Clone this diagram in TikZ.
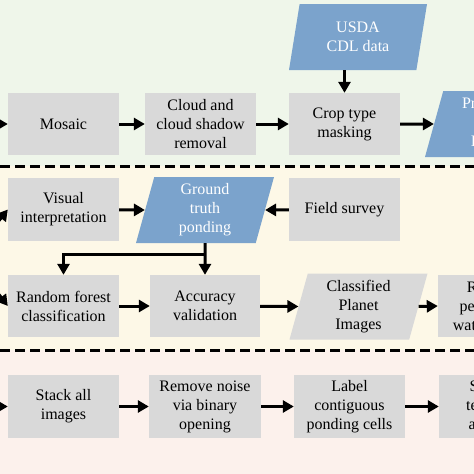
\documentclass[tikz,border=0pt]{standalone}
\usepackage{fontspec}
\setmainfont{Liberation Serif}
\usetikzlibrary{shapes.geometric,arrows.meta}
\definecolor{bggreen}{HTML}{EFF6EA}
\definecolor{bgcream}{HTML}{FDF8E7}
\definecolor{bgpink}{HTML}{FCF1EC}
\definecolor{boxgray}{HTML}{D9D9D9}
\definecolor{boxblue}{HTML}{7BA3CC}
\tikzset{
  procbox/.style={rectangle, fill=boxgray, minimum width=111pt, minimum height=62pt,
    inner sep=1pt, align=center, font=\fontsize{16}{19}\selectfont},
  databox/.style={trapezium, trapezium left angle=71.5, trapezium right angle=108.5,
    trapezium stretches body, minimum width=138pt, minimum height=66pt, inner sep=1pt,
    align=center, font=\fontsize{16}{19}\selectfont},
  bluedata/.style={databox, fill=boxblue, text=white},
  graydata/.style={databox, fill=boxgray},
  flow/.style={line width=3pt, -{Triangle[length=11pt,width=12pt]}},
  sepline/.style={line width=3pt, dash pattern=on 10pt off 5pt}
}
\begin{document}
\begin{tikzpicture}[x=1pt,y=-1pt]
\useasboundingbox (0,0) rectangle (474,474);
\clip (0,0) rectangle (474,474);
% backgrounds
\fill[bggreen] (0,0) rectangle (474,166);
\fill[bgcream] (0,166) rectangle (474,350);
\fill[bgpink] (0,350) rectangle (474,474);
\draw[sepline] (0,166) -- (474,166);
\draw[sepline] (0,350) -- (474,350);
% row 1
\node[procbox] (mosaic) at (63.5,124) {Mosaic};
\node[procbox] (cloud) at (200.5,124) {Cloud and\\cloud shadow\\removal};
\node[procbox] (crop) at (344.5,124) {Crop type\\masking};
\node[bluedata] (usda) at (358,37) {USDA\\CDL data};
\node[bluedata] (proc) at (494,124) {Processed\\Planet\\Images};
% row 2
\node[procbox, minimum height=63pt] (visual) at (63.5,209.5) {Visual\\interpretation};
\node[bluedata] (ground) at (205,210) {Ground\\truth\\ponding};
\node[procbox, minimum height=63pt] (field) at (344.5,209.5) {Field survey};
% row 3
\node[procbox] (rf) at (63.5,306) {Random forest\\classification};
\node[procbox, minimum width=110pt] (acc) at (205,306) {Accuracy\\validation};
\node[graydata] (class) at (358.5,306.5) {Classified\\Planet\\Images};
\node[procbox] (remperm) at (493.5,306) {Remove\\permanent\\water bodies};
% row 4
\node[procbox, minimum height=63pt] (stack) at (63.5,406.5) {Stack all\\images};
\node[procbox, minimum width=112pt, minimum height=63pt] (noise) at (205,406.5) {Remove noise\\via binary\\opening};
\node[procbox, minimum height=63pt] (label) at (349.5,406.5) {Label\\contiguous\\ponding cells};
\node[procbox, minimum height=63pt] (spat) at (494.5,406.5) {Spatial-\\temporal\\analysis};
% off-canvas sources
\coordinate (in1) at (-12,124);
\coordinate (in2) at (-30,257);
\coordinate (in4) at (-12,406.5);
\coordinate (split) at (205,254);
% connectors
\draw[flow] (in1) -- (mosaic.west);
\draw[flow] (mosaic) -- (cloud);
\draw[flow] (cloud) -- (crop);
\draw[flow] (usda.south -| crop.north) -- (crop.north);
\draw[flow] (crop) -- (proc.west);
\draw[flow] (in2) -- (visual.west);
\draw[flow] (in2) -- (rf.west);
\draw[flow] (visual) -- (ground.west);
\draw[flow] (field) -- (ground.east);
\draw[flow] (ground.south) -- (acc.north);
\draw[flow] (split) -| (rf.north);
\draw[flow] (rf) -- (acc);
\draw[flow] (acc) -- (class.west);
\draw[flow] (class.east) -- (remperm.west);
\draw[flow] (in4) -- (stack.west);
\draw[flow] (stack) -- (noise);
\draw[flow] (noise) -- (label);
\draw[flow] (label) -- (spat);
\end{tikzpicture}
\end{document}
